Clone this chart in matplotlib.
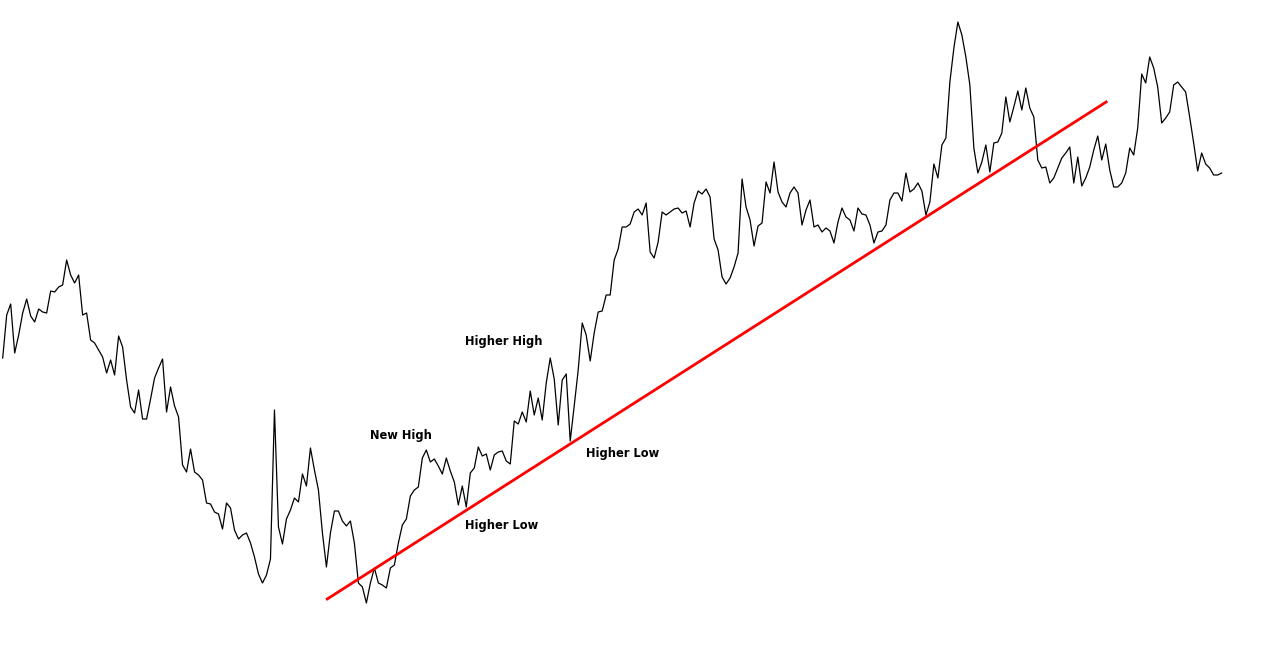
import numpy as np
import matplotlib
matplotlib.use("Agg")
import matplotlib.pyplot as plt

# closing price per session
price = [
    303, 346, 357, 308, 326, 348, 362, 345, 339, 352,
    349, 348, 370, 369, 374, 376, 401, 386, 378, 386,
    346, 348, 321, 318, 311, 304, 288, 301, 286, 325,
    314, 281, 254, 248, 271, 242, 242, 262, 283, 293,
    302, 249, 274, 255, 244, 196, 189, 212, 189, 186,
    181, 158, 157, 149, 147, 132, 158, 153, 131, 122,
    126, 128, 118, 104, 87, 78, 86, 102, 251, 134,
    117, 142, 151, 163, 159, 187, 175, 213, 191, 171,
    128, 94, 128, 150, 150, 140, 135, 140, 118, 78,
    74, 58, 78, 93, 78, 76, 73, 93, 96, 118,
    136, 142, 165, 171, 174, 203, 211, 199, 202, 195,
    187, 203, 190, 179, 156, 175, 154, 188, 193, 214,
    205, 207, 191, 206, 209, 210, 200, 197, 240, 237,
    249, 239, 270, 246, 263, 241, 278, 303, 282, 236,
    281, 287, 220, 255, 291, 338, 326, 300, 328, 349,
    350, 366, 366, 401, 412, 434, 434, 437, 449, 452,
    446, 458, 409, 403, 419, 449, 446, 449, 452, 453,
    448, 450, 434, 458, 470, 467, 472, 464, 422, 411,
    384, 377, 383, 394, 408, 482, 454, 441, 415, 435,
    438, 479, 468, 499, 469, 459, 454, 468, 474, 468,
    436, 451, 461, 434, 436, 429, 433, 430, 418, 439,
    453, 444, 441, 430, 453, 447, 446, 436, 418, 429,
    430, 436, 461, 468, 468, 460, 488, 469, 472, 478,
    470, 446, 459, 497, 483, 516, 523, 579, 613, 639,
    626, 604, 576, 513, 488, 499, 516, 489, 518, 519,
    528, 564, 539, 554, 570, 551, 573, 553, 544, 501,
    493, 494, 478, 483, 493, 503, 508, 514, 478, 504,
    475, 483, 494, 511, 525, 501, 517, 491, 474, 474,
    478, 488, 513, 506, 533, 587, 578, 604, 593, 574,
    538, 543, 549, 576, 579, 574, 569, 544, 518, 490,
    508, 497, 493, 486, 486, 488,
]
days = np.arange(len(price))

# trendline joining the higher lows
trend_days = [81.2, 276.1]
trend_price = [62, 559]

labels = ["New High", "Higher High", "Higher Low", "Higher Low"]
label_days = [99.7, 125.4, 124.9, 155.0]
label_price = [225, 319, 136, 208]

fig = plt.figure(figsize=(12.76, 6.61), dpi=100)
ax = fig.add_axes([0, 0, 1, 1])
ax.plot(days, price, color="black", linewidth=0.9)
ax.plot(trend_days, trend_price, color="#ff0000", linewidth=2)
for txt, d, p in zip(labels, label_days, label_price):
    ax.text(d, p, txt, ha="center", va="center", fontsize=8.3,
            fontweight="heavy", color="black", family="DejaVu Sans")

ax.set_xlim(-0.676, 318.6)
ax.set_ylim(0, 661)
ax.axis("off")
fig.savefig("out.png", dpi=100, facecolor="white")
